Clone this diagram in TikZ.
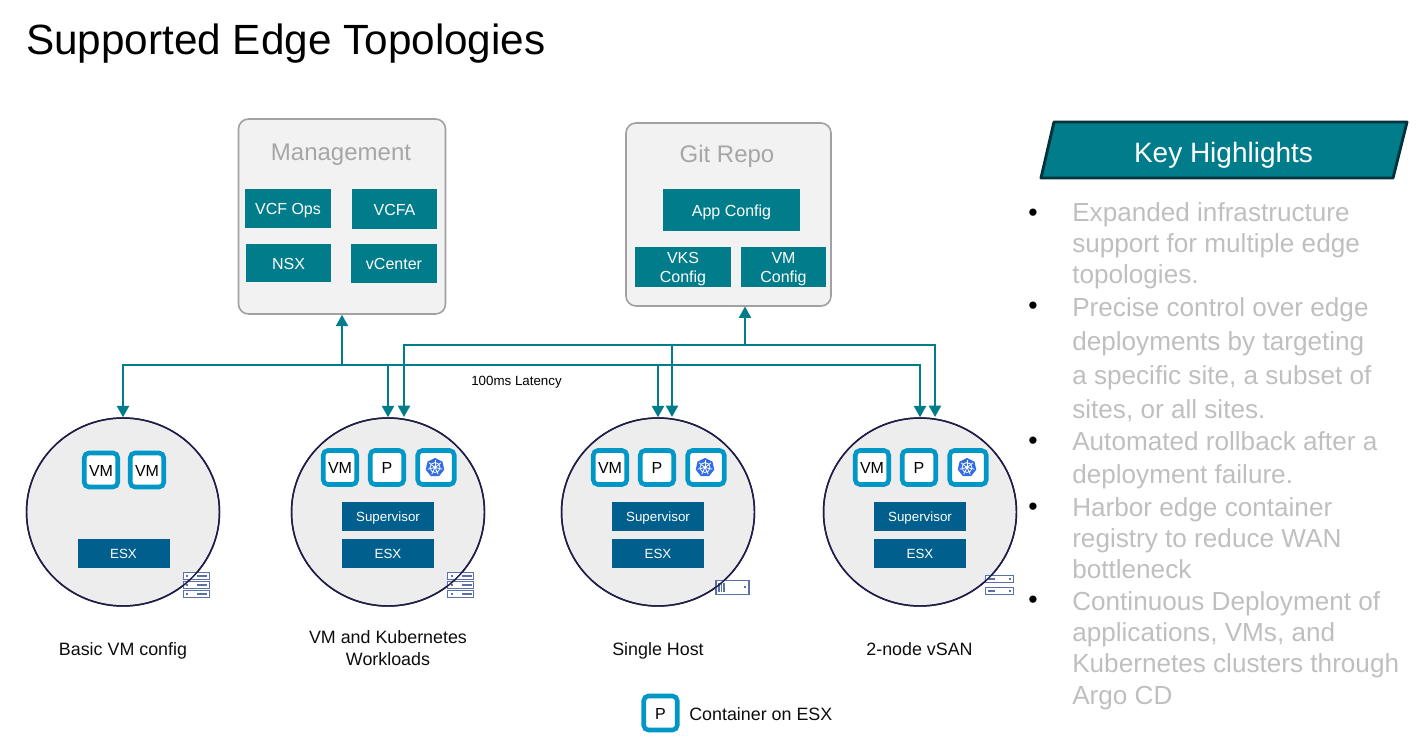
\documentclass[tikz,border=0pt]{standalone}
\usepackage{fontspec}
\setmainfont{Liberation Sans}
\usetikzlibrary{arrows.meta,shapes.geometric}

\definecolor{tealbar}{HTML}{007C8A}
\definecolor{tealdark}{HTML}{00333C}
\definecolor{esxblue}{HTML}{005F8C}
\definecolor{tileblue}{HTML}{0097C7}
\definecolor{kubeblue}{HTML}{326CE5}
\definecolor{ringnavy}{HTML}{1E1E48}
\definecolor{rackblue}{HTML}{5C70A8}

\tikzset{
  boxsize/.style 2 args={minimum width=#1*0.75pt,minimum height=#2*0.75pt,inner sep=0pt},
  sized/.style={font=\fontsize{#1}{#1}\selectfont,text height=0.8*#1,text depth=0pt},
  multiline/.style={text height=,text depth=},
  panelbox/.style={draw=black!37,fill=black!5,line width=1.2pt,rounded corners=7.5pt},
  paneltitle/.style={text=black!35,sized=18pt,inner sep=0pt},
  tealbox/.style={fill=tealbar,text=white,sized=12pt,align=center},
  esxbar/.style={fill=esxblue,text=white,sized=10pt,boxsize={92}{29}},
  tilebox/.style={draw=tileblue,fill=white,line width=3.4pt,rounded corners=3.5pt,sized=12pt,boxsize={33.5}{34}},
  sitering/.style={draw=ringnavy,line width=1.1pt},
  sitecircle/.style={ellipse,sitering,fill=black!7,boxsize={193}{188}},
  sitelabel/.style={sized=13.4pt,align=center,inner sep=0pt,text=black!95},
  buslink/.style={draw=tealbar,line width=1.5pt,-{Triangle[length=8.5pt,width=9pt]}},
  hlpara/.style={text=black!25,anchor=west,align=left,inner sep=0pt,font=\fontsize{19.6pt}{#1}\selectfont},
  hldot/.style={font=\fontsize{20pt}{20pt}\selectfont,text height=14.8pt,text depth=0pt,inner sep=0pt},
  rackunit/.style={draw=rackblue,fill=white,line width=0.6pt},
  kubelogo/.pic={
    \node[regular polygon,regular polygon sides=7,fill=kubeblue,boxsize={19}{19}] {};
    \draw[white,line width=0.6pt] (0,0) circle (5);
    \foreach \a in {0,51.4,...,308.6} \draw[white,line width=0.6pt] (0,0) -- (\a+90:7.5);
    \fill[white] (0,0) circle (1.6);
  },
}

\begin{document}
\begin{tikzpicture}[x=0.75pt,y=0.75pt,yscale=-1,xscale=1]
\useasboundingbox (0,0) rectangle (1424,756);

% Title
\node[anchor=west,inner sep=0pt,sized=31.7pt] (title) at (26,38) {Supported Edge Topologies};

% Management panel
\node[panelbox,boxsize={207}{195}] (mgmt) at (342,216.5) {};
\node[paneltitle] (mgmttitle) at (341,150.5) {Management};
\node[tealbox,boxsize={86}{39}] (vcfops) at (288,208.5) {VCF Ops};
\node[tealbox,boxsize={85}{40}] (vcfa) at (394.5,209) {VCFA};
\node[tealbox,boxsize={85}{38}] (nsx) at (288.5,263) {NSX};
\node[tealbox,boxsize={86}{39}] (vcenter) at (394,263.5) {vCenter};

% Git panel
\node[panelbox,boxsize={205}{183}] (git) at (728.5,214.5) {};
\node[paneltitle] (gittitle) at (727,153) {Git Repo};
\node[tealbox,boxsize={137}{42}] (appcfg) at (731.5,210) {App Config};
\node[tealbox,multiline,boxsize={96}{40}] (vkscfg) at (683,267) {\rule{0pt}{11.6pt}VKS\\[2.25pt]Config};
\node[tealbox,multiline,boxsize={85}{40}] (vmcfg) at (783.5,267) {\rule{0pt}{11.6pt}VM\\[2.25pt]Config};

% Sites
\node[sitecircle] (basic) at (123,512) {};
\node[tilebox] (basic-vma) at (101,470) {VM};
\node[tilebox] (basic-vmb) at (147,470) {VM};
\node[esxbar] (basic-esx) at (123.5,553.5) {ESX};
\foreach \name/\cx/\inx in {vk/388/404,host/658/672,vsan/920/935}{
  \node[sitecircle] (\name) at (\cx,512) {};
  \node[tilebox] (\name-vm) at (\cx-48,467.5) {VM};
  \node[tilebox] (\name-p) at (\cx-1,467.5) {P};
  \node[tilebox,boxsize={36.5}{34}] (\name-kube) at (\cx+48,467.5) {};
  \pic at (\cx+47,467.5) {kubelogo};
  \node[esxbar] (\name-sup) at (\cx,516.5) {Supervisor};
  \node[esxbar] (\name-esx) at (\cx,553.5) {ESX};
  \coordinate (\name-in) at (\inx,417);
}

% Server icons
\foreach \cx/\cy in {196/572.5,460.5/572.5}
  \foreach \r in {0,1,2}{
    \draw[rackunit] (\cx-13,\cy+\r*9) rectangle (\cx+13,\cy+\r*9+7);
    \fill[rackblue] (\cx-10,\cy+\r*9+2.5) rectangle +(2,2);
    \fill[rackblue] (\cx+1,\cy+\r*9+2.5) rectangle +(10,2);
  }
\draw[rackunit,line width=0.9pt] (716,580.5) rectangle (749,594.5);
\foreach \i in {718,720.5,723} \fill[rackblue] (\i,583) rectangle +(1.5,9);
\fill[rackblue] (744,586) rectangle +(2,2);
\foreach \cy in {575.5,587}{
  \draw[rackunit] (985.5,\cy) rectangle (1013.5,\cy+7);
  \fill[rackblue] (987.5,\cy+2.5) rectangle +(7,2);
  \fill[rackblue] (1009,\cy+2.5) rectangle +(2,2);
}

% circle outlines again, they run over the icons
\foreach \name in {basic,vk,host,vsan}
  \draw[sitering] (\name.center) ellipse (96.5 and 94);

% Site labels
\node[sitelabel] (basiclabel) at (123,648) {Basic VM config};
\node[sitelabel,multiline,font=\fontsize{13.4pt}{16.5pt}\selectfont] (vklabel) at (388,648) {VM and Kubernetes\\Workloads};
\node[sitelabel] (hostlabel) at (658,648) {Single Host};
\node[sitelabel] (vsanlabel) at (919.5,648) {2-node vSAN};

% Links
\coordinate (mgmtbus) at (mgmt.south |- 0,365);
\coordinate (gitbus) at (745,345);
\draw[buslink] (mgmtbus) -- (mgmt.south);
\draw[buslink] (gitbus) -- (745,306.5);
\foreach \name in {basic,vk,host,vsan}
  \draw[buslink] (mgmtbus) -| (\name.north);
\foreach \name in {vk,host,vsan}
  \draw[buslink] (gitbus) -| (\name-in);
\node[inner sep=0pt,sized=10pt] (latency) at (516.5,380) {100ms Latency};

% Legend
\node[tilebox] (legendp) at (660.5,713) {P};
\node[anchor=west,inner sep=0pt,sized=13.4pt,text=black!95] (legendtxt) at (689,713) {Container on ESX};

% Key Highlights
\draw[draw=tealdark,fill=tealbar,line width=2.2pt,line join=round] (1054,122) -- (1407,122) -- (1393,178) -- (1041,178) -- cycle;
\node[text=white,sized=21pt,inner sep=0pt] (keyhl) at (1223.5,151) {Key Highlights};

\node[hlpara=23.25pt] (hla) at (1072,246) {Expanded infrastructure\\support for multiple edge\\topologies.};
\node[hlpara=25.5pt] (hlb) at (1072,360) {Precise control over edge\\deployments by targeting\\a specific site, a subset of\\sites, or all sites.};
\node[hlpara=24.75pt] (hlc) at (1072,460.5) {Automated rollback after a\\deployment failure.};
\node[hlpara=23.25pt] (hld) at (1072,538.5) {Harbor edge container\\registry to reduce WAN\\bottleneck};
\node[hlpara=23.4pt] (hle) at (1072,650.5) {Continuous Deployment of\\applications, VMs, and\\Kubernetes clusters through\\Argo CD};

\foreach \n/\y in {a/212,b/305,c/440,d/506,e/599}
  \node[hldot] (dot\n) at (1033,\y) {•};

\end{tikzpicture}
\end{document}
